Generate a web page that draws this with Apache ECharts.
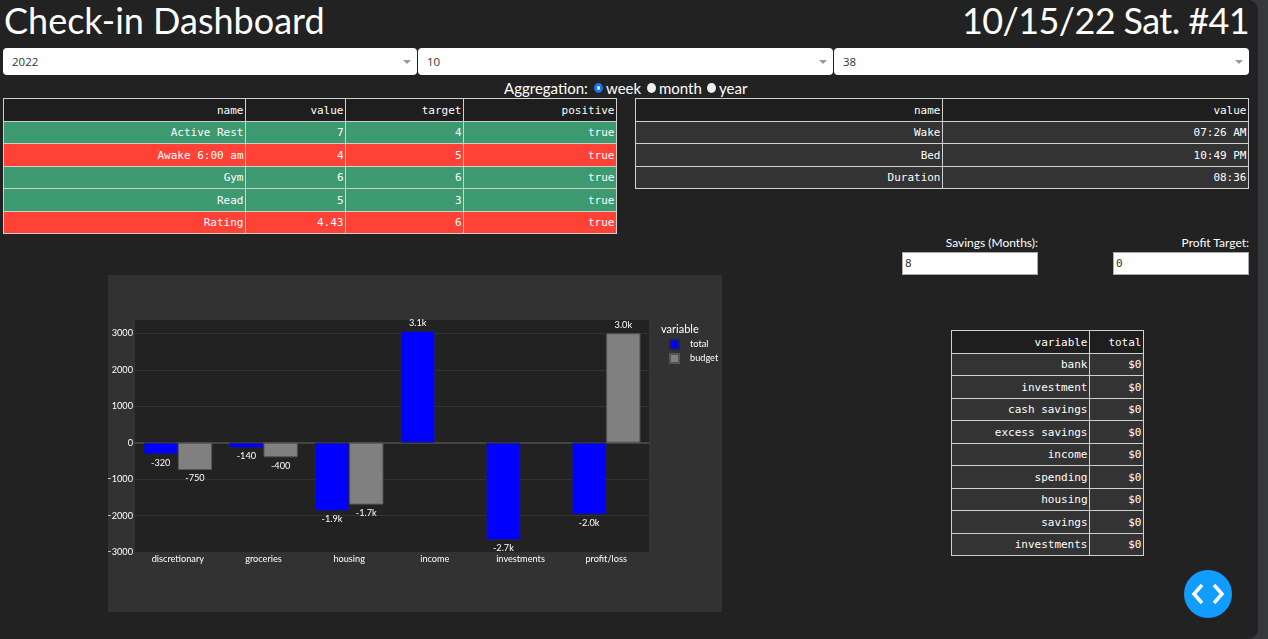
<!DOCTYPE html>
<html lang="en">
<head>
    <meta charset="utf-8" />
    <title>Check-in Dashboard</title>
    <script type="text/javascript" src="https://cdn.jsdelivr.net/npm/echarts@6/dist/echarts.min.js"></script>
    <style type="text/css">
        html, body { margin: 0; padding: 0; width: 1268px; height: 639px; overflow: hidden; background: #37383c; }
        #page { position: absolute; left: 0; top: 0; width: 1258px; height: 639px; background: #222; border-radius: 0 10px 10px 0; color: #fff; font-family: Lato, sans-serif; }
        h1 { position: absolute; margin: 0; top: -1px; font-size: 36px; font-weight: 400; line-height: 43px; white-space: nowrap; }
        .drop { position: absolute; top: 48px; height: 27px; background: #fff; border-radius: 4px; color: #333; font: 11.5px/27px "Open Sans", sans-serif; text-indent: 9px; }
        .drop:after { content: ""; position: absolute; right: 6px; top: 12px; border: 4px solid transparent; border-top: 4px solid #999; border-bottom: 0; }
        #aggregation { position: absolute; left: 504px; top: 79px; height: 18px; font-size: 15px; line-height: 18px; white-space: nowrap; }
        #aggregation span { position: absolute; top: 0; }
        .radio { position: absolute; top: 4px; width: 9px; height: 10px; border-radius: 50%; background: #eee; box-sizing: border-box; }
        .radio.on { background: #fff; border: 3px solid #1a73e8; }
        table { position: absolute; border-collapse: collapse; table-layout: fixed; font: 11px "DejaVu Sans Mono", monospace; color: #fff; }
        td, th { border: 1px solid #d0d0d0; text-align: right; font-weight: 400; padding: 1px 1.5px 0 0; height: 20.5px; background: #333; white-space: pre; overflow: hidden; }
        th { background: #1e1e1e; }
        .lbl { position: absolute; top: 235px; font-size: 12px; line-height: 15px; text-align: right; white-space: nowrap; }
        .box { position: absolute; top: 252px; width: 136px; height: 23px; box-sizing: border-box; background: #fff; border: 1px solid #aaa; color: #333; font: 11px/21px "DejaVu Sans Mono", monospace; padding-left: 2px; }
        #main { position: absolute; left: 108px; top: 275px; width: 614px; height: 337px; }
        #fab { position: absolute; left: 1184px; top: 570px; width: 48px; height: 48px; border-radius: 50%; background: #119dff; }
    </style>
</head>
<body>
    <div id="page">
        <h1 style="left:4px;">Check-in Dashboard</h1>
        <h1 style="right:9px;letter-spacing:-0.6px;">10/15/22 Sat. #41</h1>

        <div class="drop" style="left:3px;width:414px;">2022</div>
        <div class="drop" style="left:418px;width:415px;">10</div>
        <div class="drop" style="left:834px;width:415px;">38</div>

        <div id="aggregation">
            <span style="left:0;">Aggregation:</span>
            <i class="radio on" style="left:90px;"></i><span style="left:102px;">week</span>
            <i class="radio" style="left:143px;"></i><span style="left:155px;">month</span>
            <i class="radio" style="left:203px;"></i><span style="left:215px;">year</span>
        </div>

        <table id="habits" style="left:3px;top:98px;width:613px;"></table>
        <table id="sleep" style="left:635px;top:98px;width:613px;"></table>

        <div class="lbl" style="right:220px;">Savings (Months):</div>
        <div class="box" style="left:902px;">8</div>
        <div class="lbl" style="right:9px;">Profit Target:</div>
        <div class="box" style="left:1113px;">0</div>

        <div id="main"></div>

        <table id="totals" style="left:951px;top:330px;width:192px;"></table>

        <div id="fab">
            <svg width="48" height="48" viewBox="0 0 48 48">
                <path d="M18 15 L10 24 L18 33 M30 15 L38 24 L30 33" fill="none" stroke="#fff" stroke-width="3.5" />
            </svg>
        </div>
    </div>

    <script type="text/javascript">
        // bar chart
        var categories = ['discretionary', 'groceries', 'housing', 'income', 'investments', 'profit/loss'];
        var totalValues = [-320, -140, -1870, 3060, -2670, -1970];
        var budgetValues = [-750, -400, -1700, null, null, 3000];
        var yTicks = [-3000, -2000, -1000, 0, 1000, 2000, 3000];

        // tables
        var habitNames = ['Active Rest', 'Awake 6:00 am', 'Gym', 'Read', 'Rating'];
        var habitValues = ['7', '4', '6', '5', '4.43'];
        var habitTargets = ['4', '5', '6', '3', '6'];
        var habitPositive = ['true', 'true', 'true', 'true', 'true'];
        var habitColors = ['#3d9970', '#ff4136', '#3d9970', '#3d9970', '#ff4136'];
        var sleepNames = ['Wake', 'Bed', 'Duration'];
        var sleepValues = ['07:26 AM', '10:49 PM', '08:36'];
        var totalNames = ['bank', 'investment', 'cash savings', 'excess savings', 'income', 'spending', 'housing', 'savings', 'investments'];
        var totalAmounts = ['$0', '$0', '$0', '$0', '$0', '$0', '$0', '$0', '$0'];

        function drawTable(id, headers, widths, columns, colors) {
            var html = '<colgroup>';
            widths.forEach(function (w) { html += '<col style="width:' + w + 'px">'; });
            html += '</colgroup><tr>';
            headers.forEach(function (h) { html += '<th>' + h + '</th>'; });
            html += '</tr>';
            columns[0].forEach(function (_, i) {
                var style = colors ? ' style="background:' + colors[i] + '"' : '';
                html += '<tr>';
                columns.forEach(function (col) { html += '<td' + style + '>' + col[i] + '</td>'; });
                html += '</tr>';
            });
            document.getElementById(id).innerHTML = html;
        }

        drawTable('habits', ['name', 'value', 'target', 'positive'], [242, 100, 118, 153],
            [habitNames, habitValues, habitTargets, habitPositive], habitColors);
        drawTable('sleep', ['name', 'value'], [307, 306], [sleepNames, sleepValues]);
        drawTable('totals', ['variable', 'total'], [138, 54], [totalNames, totalAmounts]);

        function shortLabel(v) {
            if (Math.abs(v) >= 1000) return (v / 1000).toFixed(1) + 'k';
            return String(v);
        }

        // label goes outside the bar, so it depends on the sign
        function barData(values) {
            return values.map(function (v) {
                return { value: v, label: { position: v < 0 ? 'bottom' : 'top' } };
            });
        }

        function barSeries(name, values, color, border) {
            return {
                name: name,
                type: 'bar',
                barWidth: 34.3,
                barGap: 0,
                data: barData(values),
                itemStyle: { color: color, borderColor: border, borderWidth: 1 },
                label: {
                    show: true,
                    distance: 4,
                    color: '#fff',
                    fontFamily: 'Lato',
                    fontSize: 9.2,
                    formatter: function (p) { return shortLabel(p.value); }
                }
            };
        }

        var myChart = echarts.init(document.getElementById('main'));
        myChart.setOption({
            animation: false,
            backgroundColor: '#323232',
            textStyle: { fontFamily: 'Lato' },
            title: {
                text: 'variable',
                left: 553,
                top: 49,
                padding: 0,
                textStyle: { color: '#fff', fontSize: 11, fontWeight: 'normal', fontFamily: 'Lato' }
            },
            legend: {
                orient: 'vertical',
                left: 561,
                top: 64,
                padding: 0,
                itemWidth: 9,
                itemHeight: 9,
                itemGap: 3,
                icon: 'rect',
                data: ['total', 'budget'],
                textStyle: { color: '#fff', fontSize: 9.2, fontFamily: 'Lato', padding: [0, 0, 0, 6] }
            },
            grid: {
                show: true,
                left: 27,
                top: 45,
                width: 514,
                height: 232,
                outerBoundsMode: 'none',
                backgroundColor: '#222',
                borderWidth: 0
            },
            xAxis: [{
                type: 'category',
                data: categories,
                axisLine: { show: false, onZero: false },
                axisTick: { show: false },
                axisLabel: { color: '#fff', fontSize: 9.2, margin: 3, interval: 0 }
            }, {
                // only draws the zero line, the labels stay on the axis above
                type: 'category',
                position: 'top',
                data: categories,
                axisLine: { show: true, onZero: true, lineStyle: { color: '#444', width: 2 } },
                axisTick: { show: false },
                axisLabel: { show: false }
            }],
            yAxis: {
                type: 'value',
                min: yTicks[0],
                max: 3366,
                interval: 1000,
                axisLine: { show: false },
                axisTick: { show: false },
                axisLabel: {
                    color: '#fff',
                    fontSize: 9.2,
                    margin: 2,
                    showMaxLabel: false,
                    formatter: function (v) { return yTicks.indexOf(v) < 0 ? '' : String(v).replace('-', '\u2212'); }
                },
                splitLine: { show: true, showMinLine: false, showMaxLine: false, lineStyle: { color: '#333', width: 1 } }
            },
            series: [
                barSeries('total', totalValues, '#0000ff', '#1c1c70'),
                barSeries('budget', budgetValues, '#808080', '#555555')
            ]
        });
    </script>
</body>
</html>
